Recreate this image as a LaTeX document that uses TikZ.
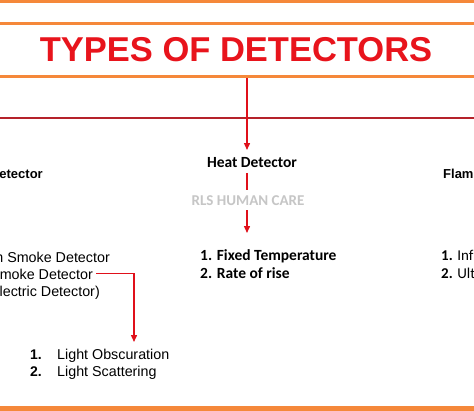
\documentclass[tikz,border=0pt]{standalone}
\usepackage{fontspec}
\setmainfont{Liberation Sans}
\newfontfamily\calfont{Carlito}
\usetikzlibrary{arrows.meta}
\definecolor{orng}{HTML}{F5883A}
\definecolor{ttl}{HTML}{E8141C}
\definecolor{drk}{HTML}{B5222A}
\definecolor{arr}{HTML}{E0101A}
\definecolor{wm}{HTML}{C6C6C6}
\begin{document}
\begin{tikzpicture}[x=1pt,y=-1pt,
  band/.style={orng, line width=3pt},
  conn/.style={arr, line width=1.4pt, -{Triangle[length=7pt,width=6pt]}},
  plain/.style={drk, line width=1.6pt},
  txt/.style={inner sep=0pt, text=black},
  headA/.style={txt, font=\bfseries\fontsize{13}{15}\selectfont},
  headC/.style={txt, font=\calfont\bfseries\fontsize{15.5}{17}\selectfont},
  listA/.style={txt, font=\fontsize{14.3}{16}\selectfont},
  listC/.style={txt, font=\calfont\fontsize{15}{17}\selectfont}]
\useasboundingbox (0,0) rectangle (474,410);
\fill[white] (0,0) rectangle (474,410);
\clip (0,0) rectangle (474,410);
% orange bands
\draw[band] (0,1) -- (474,1);
\draw[band] (0,23.5) -- (474,23.5);
\draw[band] (0,76.5) -- (474,76.5);
\draw[orng, line width=5pt] (0,408) -- (474,408);
% title
\node[txt, anchor=base, text=ttl, font=\bfseries\fontsize{34.5}{38}\selectfont] (title) at (236,61) {TYPES OF DETECTORS};
% main branch
\coordinate (topc) at (247,78);
\coordinate (hl) at (0,118);
\coordinate (hr) at (474,118);
\draw[plain] (hl) -- (hr);
% headings
\node[headC, anchor=base] (heat) at (252,167.5) {Heat Detector};
\node[headA, anchor=base east] (smoke) at (43,178) {Smoke Detector};
\node[headA, anchor=base west] (flame) at (443,178) {Flame Detector};
\draw[conn] (topc) -- (topc |- 0,150);
% heat list
\coordinate (heatend) at (247,233);
\draw[conn] (topc |- heat.south) ++(0,5) -- (heatend);
\node[txt, anchor=base, fill=white, inner xsep=2pt, inner ysep=5pt, text=wm, font=\calfont\bfseries\fontsize{15}{17}\selectfont] (wmark) at (248,205) {RLS HUMAN CARE};
\node[headC, anchor=base west] (fixed) at (200,260.5) {1. Fixed Temperature};
\node[headC, anchor=base west] (rate) at (200,278) {2. Rate of rise};
% smoke list
\node[listA, anchor=base east] (ion) at (110,262) {1. Ionization Smoke Detector};
\node[listA, anchor=base east, inner xsep=3pt] (photo) at (96,279.5) {2. Photoelectric Smoke Detector};
\node[listA, anchor=base east] (photo2) at (100,296) {(Photoelectric Detector)};
\coordinate (lightend) at (134,342);
\draw[conn] (photo.east |- 0,273.3) -| (lightend);
\node[listA, anchor=base west, font=\bfseries\fontsize{14}{16}\selectfont] (n1) at (30,359) {1.};
\node[listA, anchor=base west] (obsc) at (57,359) {Light Obscuration};
\node[listA, anchor=base west, font=\bfseries\fontsize{14}{16}\selectfont] (n2) at (30,376.5) {2.};
\node[listA, anchor=base west] (scat) at (57,376.5) {Light Scattering};
% flame list
\node[listC, anchor=base west] (infra) at (441,260.5) {\textbf{1.} Infrared};
\node[listC, anchor=base west] (ultra) at (441,278) {\textbf{2.} Ultraviolet};
\end{tikzpicture}
\end{document}
